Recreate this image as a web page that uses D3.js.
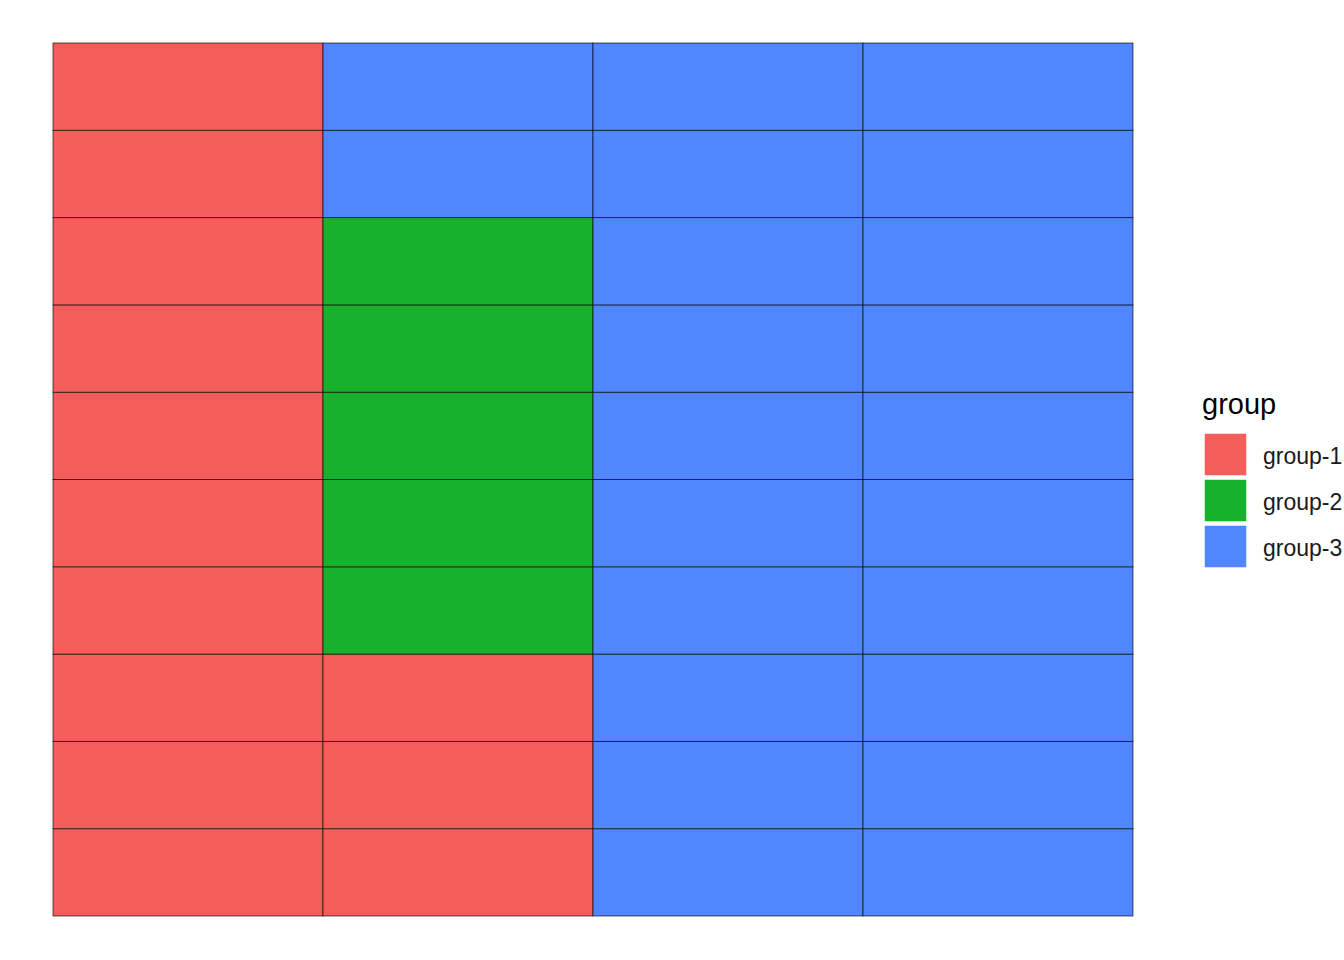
<!DOCTYPE html>
<html lang="en">
<head>
  <meta charset="UTF-8">
  <title>Waffle chart</title>
  <script src="https://d3js.org/d3.v7.min.js"></script>
  <style>
    body { margin: 0; background: #fff; font-family: "Liberation Sans", Arial, sans-serif; }
  </style>
</head>
<body>
  <svg id="chart" width="1344" height="960"></svg>
  <script>
    // groups and their counts (filled column by column, bottom to top)
    const groups = ["group-1", "group-2", "group-3"];
    const counts = [13, 5, 22];
    const colors = ["#F35E5A", "#18B12E", "#5086FF"];
    const nCols = 4;
    const nRows = 10;

    const svg = d3.select("#chart");
    const plotLeft = 53, plotRight = 1133, plotTop = 43, plotBottom = 916;

    const x = d3.scaleBand().domain(d3.range(nCols)).range([plotLeft, plotRight]).padding(0);
    const y = d3.scaleBand().domain(d3.range(nRows)).range([plotBottom, plotTop]).padding(0);
    const color = d3.scaleOrdinal().domain(groups).range(colors);

    // expand counts into cells
    const cells = [];
    groups.forEach((g, gi) => {
      for (let k = 0; k < counts[gi]; k++) cells.push(g);
    });
    const data = cells.map((g, i) => ({ group: g, col: Math.floor(i / nRows), row: i % nRows }));

    svg.append("g")
      .selectAll("rect")
      .data(data)
      .join("rect")
      .attr("x", d => x(d.col))
      .attr("y", d => y(d.row))
      .attr("width", x.bandwidth())
      .attr("height", y.bandwidth())
      .attr("fill", d => color(d.group))
      .attr("stroke", "#000")
      .attr("stroke-opacity", 0.7)
      .attr("stroke-width", 0.9);

    // legend
    const legend = svg.append("g").attr("transform", "translate(1202,0)");
    legend.append("text")
      .attr("x", 0)
      .attr("y", 414)
      .attr("font-size", 29)
      .attr("fill", "#000")
      .text("group");

    const keys = legend.selectAll("g.key")
      .data(groups)
      .join("g")
      .attr("class", "key")
      .attr("transform", (d, i) => `translate(0, ${432 + i * 46})`);

    keys.append("rect")
      .attr("x", 2)
      .attr("y", 1)
      .attr("width", 43)
      .attr("height", 43)
      .attr("fill", d => color(d))
      .attr("stroke", "#fff")
      .attr("stroke-width", 1.5);

    keys.append("text")
      .attr("x", 61)
      .attr("y", 24)
      .attr("dy", "0.35em")
      .attr("font-size", 23)
      .attr("fill", "#1a1a1a")
      .text(d => d);
  </script>
</body>
</html>
